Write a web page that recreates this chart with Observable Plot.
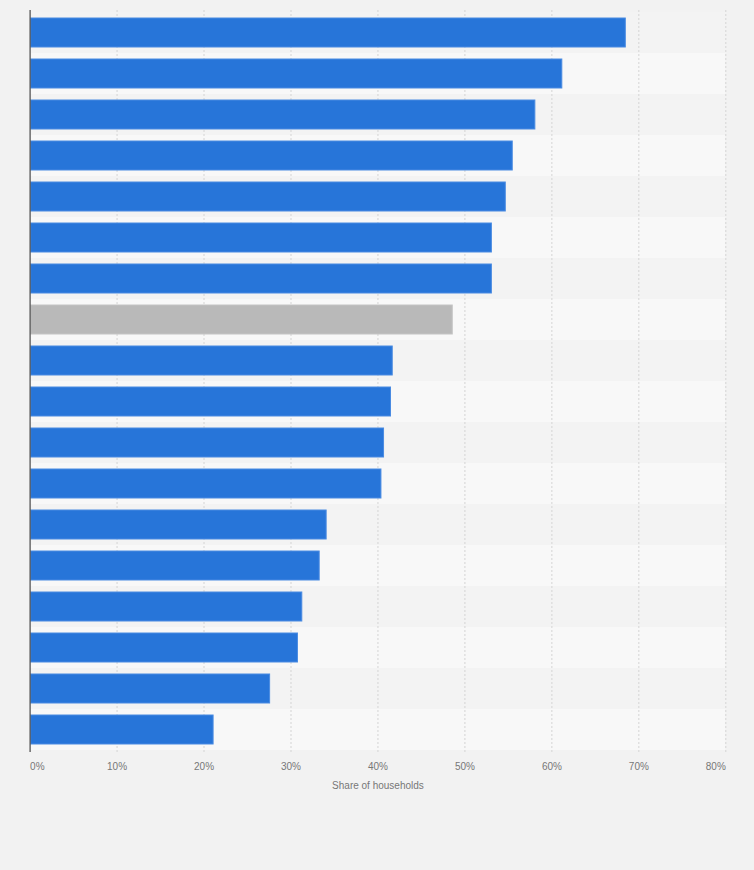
<!DOCTYPE html>
<html>
<head>
<meta charset="utf-8">
<script src="https://cdn.jsdelivr.net/npm/d3@7"></script>
<script src="https://cdn.jsdelivr.net/npm/@observablehq/plot@0.6"></script>
<style>
  html, body { margin: 0; padding: 0; background: #f2f2f2; }
  #chart svg { display: block; }
</style>
</head>
<body>
<div id="chart"></div>
<script>
// Categories (labels are not shown in the reference)
const categories = [
  "Category 1", "Category 2", "Category 3", "Category 4", "Category 5", "Category 6",
  "Category 7", "Category 8", "Category 9", "Category 10", "Category 11", "Category 12",
  "Category 13", "Category 14", "Category 15", "Category 16", "Category 17", "Category 18"
];
// Share of households (%)
const shares = [68.5, 61.2, 58.1, 55.5, 54.7, 53.1, 53.1, 48.6, 41.7, 41.5, 40.7, 40.4, 34.1, 33.3, 31.3, 30.8, 27.6, 21.1];
// Highlighted (grey) category
const highlighted = ["Category 8"];
// X tick values (%)
const xTicks = [0, 10, 20, 30, 40, 50, 60, 70, 80];
const xTitle = "Share of households";

const data = categories.map((c, i) => ({category: c, share: shares[i], index: i}));
const xMax = d3.max(xTicks);
const font = "'Liberation Sans', Arial, Helvetica, sans-serif";
const textColor = "#777";

const chart = Plot.plot({
  width: 754,
  height: 870,
  marginLeft: 29.6,
  marginRight: 28.7,
  marginTop: 10,
  marginBottom: 118,
  style: {background: "#f2f2f2", fontFamily: font},
  x: {domain: [0, xMax], axis: null},
  y: {domain: categories, padding: 0, axis: null},
  marks: [
    // alternating row stripes
    Plot.barX(data.filter(d => d.index % 2 === 0), {y: "category", x1: 0, x2: xMax, fill: "#f3f3f3"}),
    Plot.barX(data.filter(d => d.index % 2 === 1), {y: "category", x1: 0, x2: xMax, fill: "#f8f8f8"}),
    // dashed vertical grid lines
    Plot.ruleX(xTicks.filter(t => t > 0), {stroke: "#d4d4d4", strokeWidth: 1, strokeDasharray: "2,2"}),
    // bars
    Plot.barX(data.filter(d => !highlighted.includes(d.category)), {
      y: "category", x: "share", fill: "#2775d9", stroke: "#4a8be2", strokeWidth: 1,
      insetTop: 6, insetBottom: 6, insetLeft: 1
    }),
    Plot.barX(data.filter(d => highlighted.includes(d.category)), {
      y: "category", x: "share", fill: "#b9b9b9", stroke: "#c4c4c4", strokeWidth: 1,
      insetTop: 6, insetBottom: 6, insetLeft: 1
    }),
    // left axis line
    Plot.ruleX([0], {stroke: "#555", strokeWidth: 1.3}),
    // tick labels
    Plot.axisX(xTicks.slice(0, 1), {tickSize: 0, tickPadding: 10, fontSize: 10, fill: textColor, textAnchor: "start", tickFormat: d => d + "%", label: null}),
    Plot.axisX(xTicks.slice(1, -1), {tickSize: 0, tickPadding: 10, fontSize: 10, fill: textColor, tickFormat: d => d + "%", label: null}),
    Plot.axisX(xTicks.slice(-1), {tickSize: 0, tickPadding: 10, fontSize: 10, fill: textColor, textAnchor: "end", tickFormat: d => d + "%", label: null}),
    // axis title
    Plot.text([xTitle], {frameAnchor: "bottom", lineAnchor: "middle", dy: 33, fontSize: 10, fill: textColor})
  ]
});
document.getElementById("chart").appendChild(chart);
</script>
</body>
</html>
